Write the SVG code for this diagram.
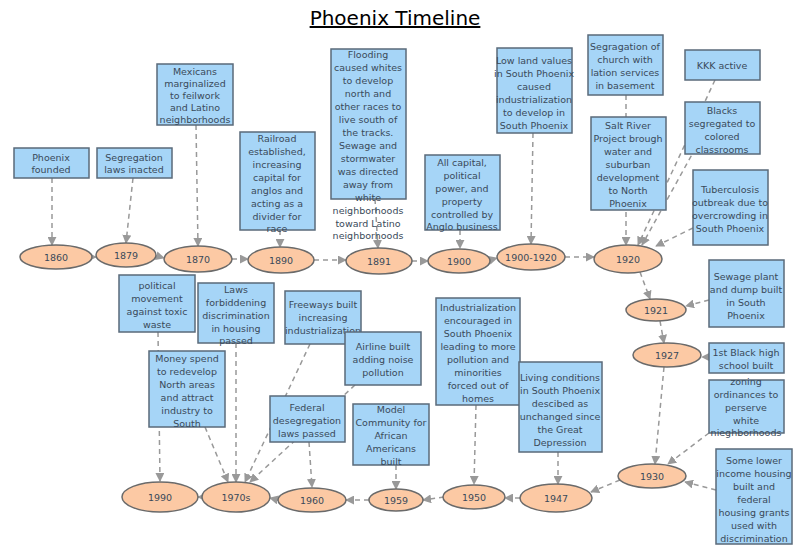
<svg xmlns="http://www.w3.org/2000/svg" width="800" height="552" viewBox="0 0 800 552">
<style>
.b{fill:#a6d5f7;stroke:#5a6a7a;stroke-width:1.5}
.e{fill:#fcc9a4;stroke:#6a6a6a;stroke-width:1.5}
text{font-family:"DejaVu Sans",sans-serif;font-size:9.5px;fill:#3a4a5a;text-anchor:middle}
.c{stroke:#999;stroke-width:1.5;stroke-dasharray:5,4;fill:none;marker-end:url(#a)}
.t{font-size:20px;fill:#000;text-decoration:underline}
</style>
<defs><marker id="a" viewBox="0 0 10 10" refX="9" refY="5" markerWidth="6" markerHeight="6" orient="auto"><path d="M0,0L10,5L0,10z" fill="#999"/></marker></defs>
<rect width="800" height="552" fill="#fff"/>
<text class="t" x="395" y="25">Phoenix Timeline</text>
<g id="connectors">
<path class="c" d="M92,257H96"/><path class="c" d="M157,256L164,258"/><path class="c" d="M232,259H248"/><path class="c" d="M314,260H346"/><path class="c" d="M412,261H428"/><path class="c" d="M490,260L497,258"/><path class="c" d="M565,257H594"/>
<path class="c" d="M640,272L650,299"/><path class="c" d="M660,321L664,343"/><path class="c" d="M664,367L655,464"/><path class="c" d="M620,480L591,492"/><path class="c" d="M520,498H505"/><path class="c" d="M444,497L423,500"/><path class="c" d="M369,500H346"/><path class="c" d="M278,500L270,498"/><path class="c" d="M203,497H198"/>
<path class="c" d="M52,178V245"/><path class="c" d="M133,178L126,243"/><path class="c" d="M196,125L198,246"/><path class="c" d="M280,230V247"/><path class="c" d="M375,199L378,248"/><path class="c" d="M460,230V248"/><path class="c" d="M533,133L531,244"/>
<path class="c" d="M626,95V245"/><path class="c" d="M715,80L638,245"/><path class="c" d="M700,140L642,245"/><path class="c" d="M693,228L656,246"/>
<path class="c" d="M709,300L686,306"/><path class="c" d="M709,357H702"/><path class="c" d="M709,433L668,464"/><path class="c" d="M716,490L685,482"/>
<path class="c" d="M476,405L474,484"/><path class="c" d="M558,452V484"/><path class="c" d="M396,465V489"/><path class="c" d="M309,442L312,487"/>
<path class="c" d="M355,385L250,482"/><path class="c" d="M310,344L245,482"/><path class="c" d="M236,343V482"/><path class="c" d="M205,427L228,482"/><path class="c" d="M158,332L160,481"/>
</g>
<g id="n1860"><ellipse class="e" cx="56" cy="257" rx="36" ry="12"/><text x="56" y="261">1860</text></g>
<g id="n1879"><ellipse class="e" cx="126" cy="255" rx="30" ry="12"/><text x="126" y="259">1879</text></g>
<g id="n1870"><ellipse class="e" cx="198" cy="259" rx="34" ry="13"/><text x="198" y="263">1870</text></g>
<g id="n1890"><ellipse class="e" cx="281" cy="260" rx="33" ry="13"/><text x="281" y="264">1890</text></g>
<g id="n1891"><ellipse class="e" cx="379" cy="261" rx="33" ry="13"/><text x="379" y="265">1891</text></g>
<g id="n1900"><ellipse class="e" cx="459" cy="261" rx="31" ry="12"/><text x="459" y="265">1900</text></g>
<g id="n1900-1920"><ellipse class="e" cx="531" cy="257" rx="34" ry="13"/><text x="531" y="261">1900-1920</text></g>
<g id="n1920"><ellipse class="e" cx="628" cy="259" rx="34" ry="14"/><text x="628" y="263">1920</text></g>
<g id="n1921"><ellipse class="e" cx="656" cy="310" rx="30" ry="11"/><text x="656" y="314">1921</text></g>
<g id="n1927"><ellipse class="e" cx="667" cy="355" rx="34" ry="12"/><text x="667" y="359">1927</text></g>
<g id="n1930"><ellipse class="e" cx="652" cy="476" rx="34" ry="12"/><text x="652" y="480">1930</text></g>
<g id="n1947"><ellipse class="e" cx="556" cy="498" rx="36" ry="14"/><text x="556" y="502">1947</text></g>
<g id="n1950"><ellipse class="e" cx="474" cy="497" rx="31" ry="12"/><text x="474" y="501">1950</text></g>
<g id="n1959"><ellipse class="e" cx="396" cy="500" rx="27" ry="11"/><text x="396" y="504">1959</text></g>
<g id="n1960"><ellipse class="e" cx="312" cy="500" rx="34" ry="12"/><text x="312" y="504">1960</text></g>
<g id="n1970s"><ellipse class="e" cx="236" cy="497" rx="34" ry="15"/><text x="236" y="501">1970s</text></g>
<g id="n1990"><ellipse class="e" cx="160" cy="497" rx="38" ry="15"/><text x="160" y="501">1990</text></g>
<g id="bFounded"><rect class="b" x="14" y="148" width="75" height="30"/><text x="51" y="161">Phoenix</text><text x="51" y="173">founded</text></g>
<g id="bSeg"><rect class="b" x="97" y="148" width="75" height="30"/><text x="134" y="161">Segregation</text><text x="134" y="173">laws inacted</text></g>
<g id="bMex"><rect class="b" x="157" y="64" width="76" height="61"/><text x="195" y="75">Mexicans</text><text x="195" y="87">marginalized</text><text x="195" y="99">to feilwork</text><text x="195" y="111">and Latino</text><text x="195" y="123">neighborhoods</text></g>
<g id="bRail"><rect class="b" x="240" y="132" width="75" height="98"/><text x="277" y="142">Railroad</text><text x="277" y="155">established,</text><text x="277" y="168">increasing</text><text x="277" y="181">capital for</text><text x="277" y="194">anglos and</text><text x="277" y="207">acting as a</text><text x="277" y="220">divider for</text><text x="277" y="232">race</text></g>
<g id="bFlood"><rect class="b" x="331" y="49" width="75" height="150"/><text x="368" y="58">Flooding</text><text x="368" y="71">caused whites</text><text x="368" y="84">to develop</text><text x="368" y="97">north and</text><text x="368" y="110">other races to</text><text x="368" y="123">live south of</text><text x="368" y="136">the tracks.</text><text x="368" y="149">Sewage and</text><text x="368" y="162">stormwater</text><text x="368" y="175">was directed</text><text x="368" y="188">away from</text><text x="368" y="201">white</text><text x="368" y="214">neighborhoods</text><text x="368" y="227">toward Latino</text><text x="368" y="239">neighborhoods</text></g>
<g id="bCap"><rect class="b" x="425" y="155" width="75" height="75"/><text x="462" y="166">All capital,</text><text x="462" y="179">political</text><text x="462" y="192">power, and</text><text x="462" y="205">property</text><text x="462" y="218">controlled by</text><text x="462" y="230">Anglo business</text></g>
<g id="bLow"><rect class="b" x="497" y="48" width="75" height="85"/><text x="534" y="64">Low land values</text><text x="534" y="77">in South Phoenix</text><text x="534" y="90">caused</text><text x="534" y="103">industrialization</text><text x="534" y="116">to develop in</text><text x="534" y="129">South Phoenix</text></g>
<g id="bChurch"><rect class="b" x="588" y="35" width="75" height="60"/><text x="625" y="50">Segragation of</text><text x="625" y="63">church with</text><text x="625" y="76">lation services</text><text x="625" y="89">in basement</text></g>
<g id="bSalt"><rect class="b" x="591" y="117" width="75" height="93"/><text x="628" y="129">Salt River</text><text x="628" y="142">Project brough</text><text x="628" y="155">water and</text><text x="628" y="168">suburban</text><text x="628" y="181">development</text><text x="628" y="194">to North</text><text x="628" y="207">Phoenix</text></g>
<g id="bKKK"><rect class="b" x="685" y="50" width="75" height="30"/><text x="722" y="69">KKK active</text></g>
<g id="bBlacks"><rect class="b" x="685" y="102" width="75" height="52"/><text x="722" y="114">Blacks</text><text x="722" y="127">segregated to</text><text x="722" y="140">colored</text><text x="722" y="153">classrooms</text></g>
<g id="bTB"><rect class="b" x="693" y="170" width="75" height="75"/><text x="730" y="193">Tuberculosis</text><text x="730" y="206">outbreak due to</text><text x="730" y="219">overcrowding in</text><text x="730" y="232">South Phoenix</text></g>
<g id="bSewage"><rect class="b" x="709" y="260" width="75" height="67"/><text x="746" y="280">Sewage plant</text><text x="746" y="293">and dump built</text><text x="746" y="306">in South</text><text x="746" y="319">Phoenix</text></g>
<g id="b1st"><rect class="b" x="709" y="343" width="75" height="30"/><text x="746" y="356">1st Black high</text><text x="746" y="369">school built</text></g>
<g id="bZone"><rect class="b" x="709" y="380" width="75" height="53"/><text x="746" y="385">zoning</text><text x="746" y="398">ordinances to</text><text x="746" y="411">perserve</text><text x="746" y="424">white</text><text x="746" y="436">nieghborhoods</text></g>
<g id="bLower"><rect class="b" x="716" y="449" width="76" height="95"/><text x="754" y="464">Some lower</text><text x="754" y="477">income housing</text><text x="754" y="490">built and</text><text x="754" y="503">federal</text><text x="754" y="516">housing grants</text><text x="754" y="529">used with</text><text x="754" y="542">discrimination</text></g>
<g id="bInd"><rect class="b" x="436" y="298" width="84" height="107"/><text x="478" y="311">Industrialization</text><text x="478" y="324">encouraged in</text><text x="478" y="337">South Phoenix</text><text x="478" y="350">leading to more</text><text x="478" y="363">pollution and</text><text x="478" y="376">minorities</text><text x="478" y="389">forced out of</text><text x="478" y="402">homes</text></g>
<g id="bLiving"><rect class="b" x="519" y="362" width="83" height="90"/><text x="560" y="381">Living conditions</text><text x="560" y="394">in South Phoenix</text><text x="560" y="407">descibed as</text><text x="560" y="420">unchanged since</text><text x="560" y="433">the Great</text><text x="560" y="446">Depression</text></g>
<g id="bModel"><rect class="b" x="353" y="404" width="76" height="61"/><text x="391" y="413">Model</text><text x="391" y="426">Community for</text><text x="391" y="439">African</text><text x="391" y="452">Americans</text><text x="391" y="465">built</text></g>
<g id="bFed"><rect class="b" x="270" y="396" width="75" height="46"/><text x="307" y="411">Federal</text><text x="307" y="424">desegregation</text><text x="307" y="437">laws passed</text></g>
<g id="bFree"><rect class="b" x="285" y="291" width="76" height="53"/><text x="323" y="308">Freeways built</text><text x="323" y="321">increasing</text><text x="323" y="334">industrialization</text></g>
<g id="bAir"><rect class="b" x="345" y="332" width="76" height="53"/><text x="383" y="350">Airline built</text><text x="383" y="363">adding noise</text><text x="383" y="376">pollution</text></g>
<g id="bLaws"><rect class="b" x="198" y="283" width="76" height="60"/><text x="236" y="293">Laws</text><text x="236" y="306">forbiddening</text><text x="236" y="319">discrimination</text><text x="236" y="332">in housing</text><text x="236" y="344">passed</text></g>
<g id="bPol"><rect class="b" x="119" y="275" width="76" height="57"/><text x="157" y="289">political</text><text x="157" y="302">movement</text><text x="157" y="315">against toxic</text><text x="157" y="328">waste</text></g>
<g id="bMoney"><rect class="b" x="149" y="351" width="76" height="76"/><text x="187" y="362">Money spend</text><text x="187" y="375">to redevelop</text><text x="187" y="388">North areas</text><text x="187" y="401">and attract</text><text x="187" y="414">industry to</text><text x="187" y="427">South</text></g>
</svg>
